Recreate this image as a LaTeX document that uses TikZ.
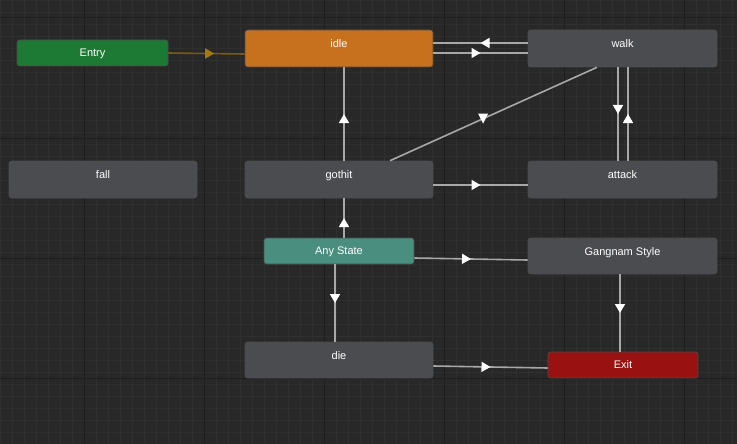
\documentclass[tikz,border=0pt]{standalone}
\usepackage{fontspec}
\setmainfont{Liberation Sans}
\usetikzlibrary{arrows.meta,decorations.markings}
\definecolor{bg}{HTML}{282828}
\definecolor{gminor}{HTML}{2F2F2F}
\definecolor{gmajor}{HTML}{1E1E1E}
\definecolor{stgray}{HTML}{4B4C50}
\definecolor{stgreen}{HTML}{1D7A34}
\definecolor{storange}{HTML}{C7701D}
\definecolor{stteal}{HTML}{4A8E80}
\definecolor{stred}{HTML}{9A1111}
\definecolor{lnk}{HTML}{A8A8A8}
\definecolor{entrylnk}{HTML}{7A5A14}
\definecolor{entryarr}{HTML}{A67A10}
\tikzset{
  state/.style={draw=black!70, line width=0.6pt, rounded corners=2.5pt, fill=stgray, inner sep=0pt},
  lbl/.style={text=white, font=\fontsize{11}{13}\selectfont, anchor=north, inner sep=0pt},
  plain/.style={draw=lnk, line width=1.6pt},
  conn/.style={plain, postaction={decorate},
    decoration={markings, mark=at position 0.5 with {\arrow[white]{Triangle[width=10pt,length=9pt]}}}},
}
\begin{document}
\begin{tikzpicture}[x=1pt,y=-1pt]
\fill[bg] (0,0) rectangle (737,444);
\useasboundingbox (0,0) rectangle (737,444);
\foreach \x in {0,12,...,737} \draw[gminor,line width=0.6pt] (\x,0) -- (\x,444);
\foreach \y in {0,12,...,444} \draw[gminor,line width=0.6pt] (0,\y) -- (737,\y);
\foreach \x in {84,204,324,444,564,684} \draw[gmajor,line width=1pt] (\x,0) -- (\x,444);
\foreach \y in {18,138,258,378} \draw[gmajor,line width=1pt] (0,\y) -- (737,\y);

\node[state, fill=stgreen, minimum width=151pt, minimum height=26pt] (entry) at (92.5,53) {};
\node[state, fill=storange, minimum width=188pt, minimum height=37pt] (idle) at (339,48.5) {};
\node[state, minimum width=189pt, minimum height=37pt] (walk) at (622.5,48.5) {};
\node[state, minimum width=188pt, minimum height=37pt] (fall) at (103,179.5) {};
\node[state, minimum width=188pt, minimum height=37pt] (gothit) at (339,179.5) {};
\node[state, minimum width=189pt, minimum height=37pt] (attack) at (622.5,179.5) {};
\node[state, fill=stteal, minimum width=150pt, minimum height=26pt] (any) at (339,251) {};
\node[state, minimum width=189pt, minimum height=36pt] (gang) at (622.5,256) {};
\node[state, minimum width=188pt, minimum height=36pt] (die) at (339,360) {};
\node[state, fill=stred, minimum width=150pt, minimum height=26pt] (exit) at (623,365) {};

\node[lbl] (tentry) at ([yshift=-9pt]entry.north) {Entry};
\node[lbl] (tidle) at ([yshift=-9.5pt]idle.north) {idle};
\node[lbl] (twalk) at ([yshift=-9.5pt]walk.north) {walk};
\node[lbl] (tfall) at ([yshift=-9.5pt]fall.north) {fall};
\node[lbl] (tgothit) at ([yshift=-9.5pt]gothit.north) {gothit};
\node[lbl] (tattack) at ([yshift=-9.5pt]attack.north) {attack};
\node[lbl] (tany) at ([yshift=-9pt]any.north) {Any State};
\node[lbl] (tgang) at ([yshift=-9.5pt]gang.north) {Gangnam Style};
\node[lbl] (tdie) at ([yshift=-9.5pt]die.north) {die};
\node[lbl] (texit) at ([yshift=-9pt]exit.north) {Exit};

\draw[draw=entrylnk, line width=1.6pt, postaction={decorate}, decoration={markings, mark=at position 0.6 with {\arrow[entryarr]{Triangle[width=10pt,length=9pt]}}}] (entry.east) -- ([yshift=-5.5pt]idle.west);
\draw[conn] ([yshift=5.5pt]walk.west) -- ([yshift=5.5pt]idle.east);
\draw[conn] ([yshift=-4.5pt]idle.east) -- ([yshift=-4.5pt]walk.west);
\draw[plain] ([xshift=-25.5pt]walk.south) -- coordinate[pos=0.55] (wg) ([xshift=51pt]gothit.north);
\fill[white] ([xshift=-5pt,yshift=5pt]wg) -- ([xshift=5pt,yshift=5pt]wg) -- ([yshift=-5pt]wg) -- cycle;
\draw[conn] ([xshift=5pt]gothit.north) -- ([xshift=5pt]idle.south);
\draw[conn] ([xshift=-4.5pt]walk.south) -- ([xshift=-4.5pt]attack.north);
\draw[conn] ([xshift=5.5pt]attack.north) -- ([xshift=5.5pt]walk.south);
\draw[conn] ([yshift=-5.5pt]gothit.east) -- ([yshift=-5.5pt]attack.west);
\draw[conn] ([xshift=5pt]any.north) -- ([xshift=5pt]gothit.south);
\draw[conn] ([yshift=-7pt]any.east) -- ([yshift=-4pt]gang.west);
\draw[conn] ([xshift=-4pt]any.south) -- ([xshift=-4pt]die.north);
\draw[conn] ([xshift=-2.5pt]gang.south) -- ([xshift=-3pt]exit.north);
\draw[conn] ([yshift=-6pt]die.east) -- ([yshift=-3pt]exit.west);
\end{tikzpicture}
\end{document}
